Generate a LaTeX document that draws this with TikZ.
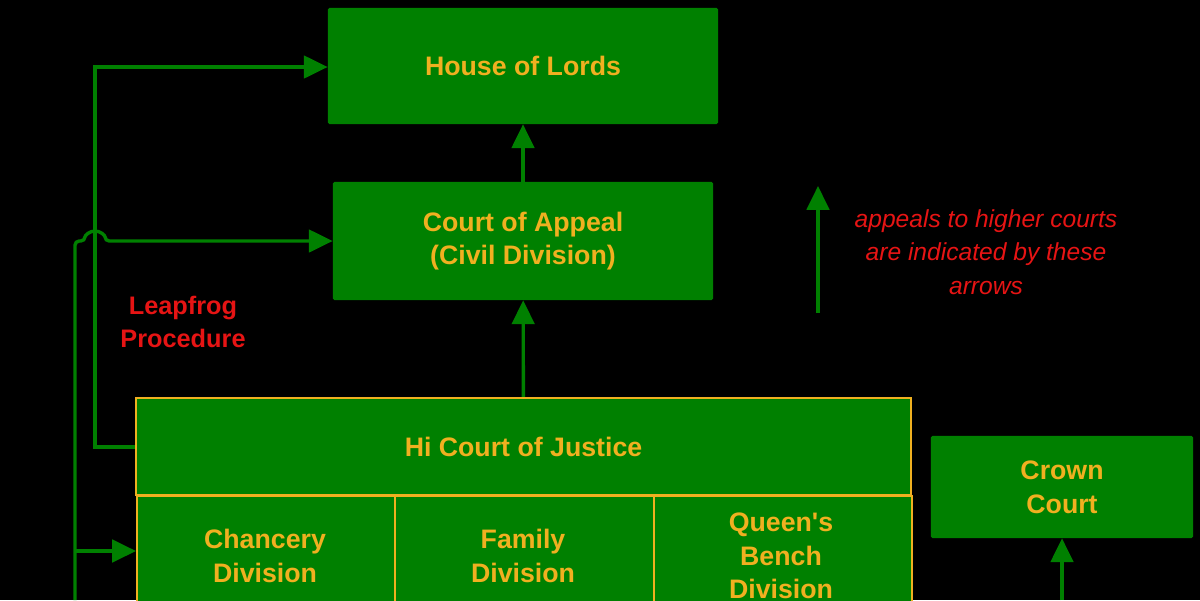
\documentclass[tikz,border=0pt]{standalone}
\usepackage{fontspec}
\setmainfont{Liberation Sans}
\usetikzlibrary{arrows.meta}
\definecolor{courtgreen}{RGB}{0,128,0}
\definecolor{courtgold}{RGB}{240,176,32}
\definecolor{notered}{RGB}{230,20,20}
\begin{document}
\begin{tikzpicture}[x=0.025cm,y=-0.025cm]
    % Styles
    \tikzstyle{court} = [rectangle, rounded corners=1pt, fill=courtgreen, text=courtgold, font=\bfseries\fontsize{19}{24}\selectfont, align=center, inner sep=0pt]
    \tikzstyle{division} = [rectangle, fill=courtgreen, draw=courtgold, line width=1.5pt, text=courtgold, font=\bfseries\fontsize{19}{24}\selectfont, align=center, inner sep=0pt]
    \tikzstyle{label} = [text=courtgold, font=\bfseries\fontsize{19}{24}\selectfont, align=center]
    \tikzstyle{arrow} = [draw=courtgreen, line width=2.4pt, -{Triangle[length=17pt,width=16pt]}, color=courtgreen]

    \fill[black] (0,0) rectangle (1200,600);
    \useasboundingbox (0,0) rectangle (1200,600);
    \clip (0,0) rectangle (1200,600);

    % Courts
    \node (lords) [court, minimum width=9.75cm, minimum height=2.9cm] at (523,66) {House of Lords};
    \node (appeal) [court, minimum width=9.5cm, minimum height=2.95cm] at (523,241) {Court of Appeal\\(Civil Division)};
    \node (crown) [court, minimum width=6.55cm, minimum height=2.55cm] at (1062,487) {Crown\\Court};

    % High Court
    \node (high) [division, minimum width=19.375cm, minimum height=2.425cm] at (523.5,446.5) {Hi Court of Justice};
    \node (chancery) [division, minimum width=6.45cm, minimum height=4cm, anchor=north west] at (136,495) {};
    \node (family) [division, minimum width=6.475cm, minimum height=4cm, anchor=north west] at (394,495) {};
    \node (queens) [division, minimum width=6.45cm, minimum height=4cm, anchor=north west] at (653,495) {};
    \node [label] at (265,556) {Chancery\\Division};
    \node [label] at (523,556) {Family\\Division};
    \node [label] at (781,556) {Queen\textquotesingle s\\Bench\\Division};

    % Appeals
    \draw [arrow] (appeal) -- (lords);
    \draw [arrow] (high) -- (appeal);
    \coordinate (leapA) at (95,447);
    \coordinate (leapB) at (95,67);
    \draw [arrow] (high.west |- leapA) -- (leapA) -- (leapB) -- (lords.west |- leapB);
    \coordinate (low) at (75,600);
    \draw [arrow, rounded corners=3pt] (low) -- (75,241) -- (85,241) arc (180:360:10) -- (appeal.west |- 0,241);
    \draw [arrow] (75,551) -- (chancery.west |- 0,551);
    \coordinate (crownlow) at (1062,600);
    \draw [arrow] (crownlow) -- (crown);

    % Legende
    \coordinate (keylow) at (818,313);
    \coordinate (keyhigh) at (818,186);
    \draw [arrow] (keylow) -- (keyhigh);
    \node (key) [text=notered, font=\itshape\fontsize{17.5}{24}\selectfont, align=center] at (986,252) {appeals to higher courts\\are indicated by these\\arrows};
    \node (leapfrog) [text=notered, font=\bfseries\fontsize{18}{24}\selectfont, align=center] at (183,322) {Leapfrog\\Procedure};
\end{tikzpicture}
\end{document}
